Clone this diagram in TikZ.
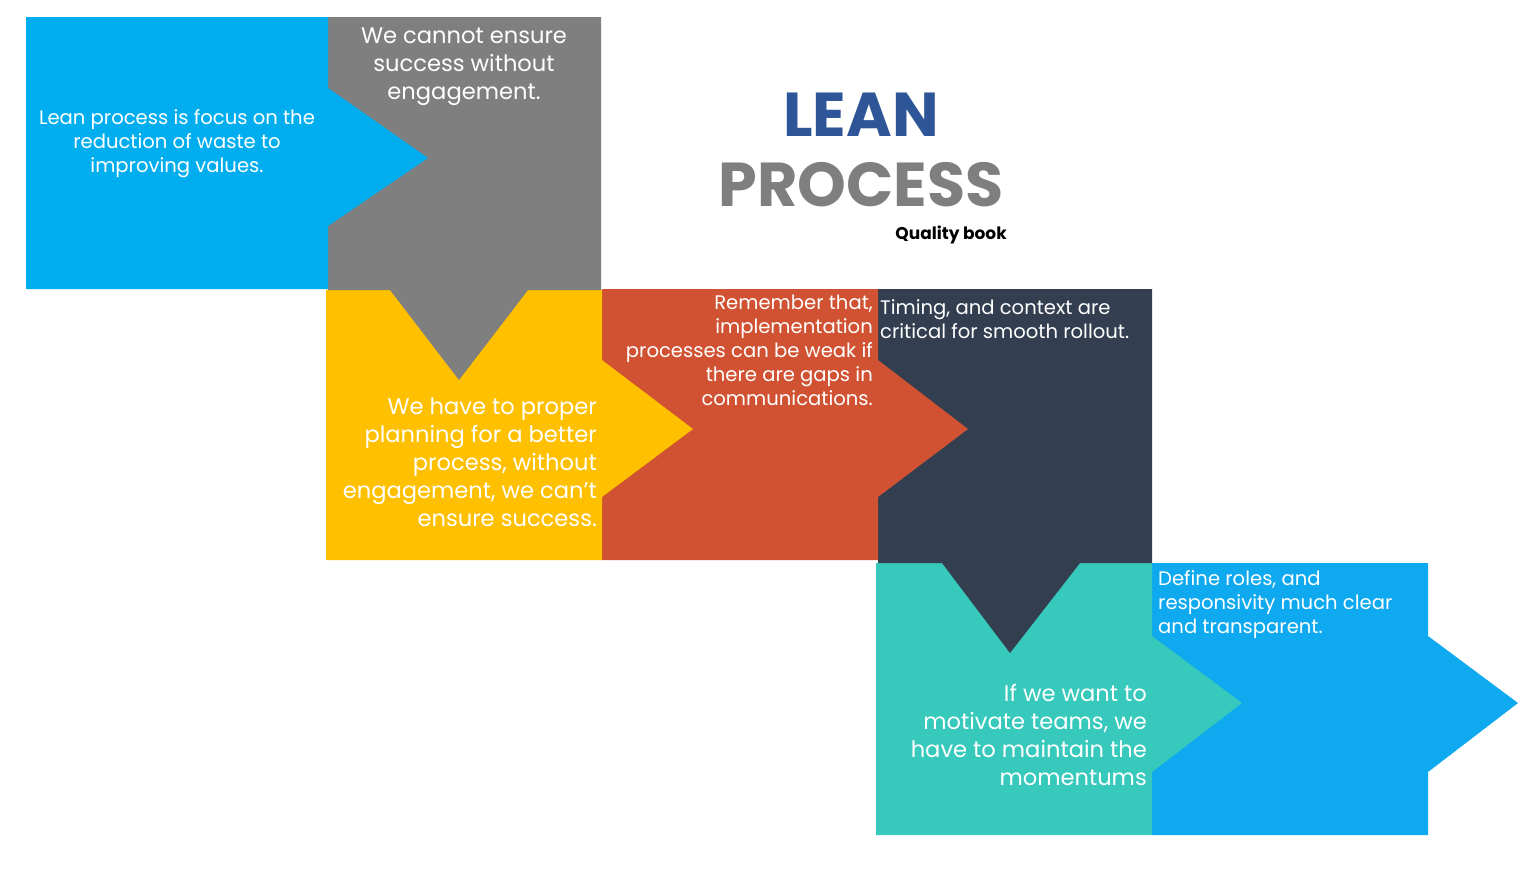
\documentclass[tikz,border=0pt]{standalone}
\usepackage{fontspec}
\setmainfont{Poppins}
\begin{document}
\begin{tikzpicture}[x=1pt,y=-1pt]
\definecolor{cblue}{HTML}{00AEEF}
\definecolor{cblue2}{HTML}{0FA9F0}
\definecolor{cgray}{HTML}{7F7F7F}
\definecolor{cyellow}{HTML}{FFC000}
\definecolor{corange}{HTML}{D05232}
\definecolor{cdark}{HTML}{333F50}
\definecolor{cteal}{HTML}{36C9BC}
\definecolor{ctitle}{HTML}{2E5597}
\tikzset{txt/.style={text=white,inner sep=0pt,font=\fontsize{19.6}{24}\selectfont},
 big/.style={txt,font=\fontsize{22.6}{28}\selectfont}}
\useasboundingbox[fill=white] (0,0) rectangle (1536,870);
\fill[cblue2] (1152,563)--(1428,563)--(1428,636)--(1518,703)--(1428,772)--(1428,835)--(1152,835)--cycle;
\fill[cteal] (876,563)--(1152,563)--(1152,636)--(1242,703)--(1152,772)--(1152,835)--(876,835)--cycle;
\fill[cdark] (878,289)--(1152,289)--(1152,563)--(1080,563)--(1010,653)--(942,563)--(878,563)--cycle;
\fill[corange] (602,289)--(878,289)--(878,360)--(968,429)--(878,497)--(878,560)--(602,560)--cycle;
\fill[cyellow] (326,290)--(602,290)--(602,360)--(693,429)--(602,497)--(602,560)--(326,560)--cycle;
\fill[cgray] (328,17)--(601,17)--(601,290)--(528,290)--(459,380)--(390,290)--(328,290)--cycle;
\fill[cblue] (26,17)--(328,17)--(328,88)--(428,158)--(328,226)--(328,289)--(26,289)--cycle;
\node[txt,align=center] (t1) at (177,144) {Lean process is focus on the\\reduction of waste to\\improving values.};
\node[big,align=center] (t2) at (464,67) {We cannot ensure\\success without\\engagement.};
\node[big,align=right,anchor=east] (t3) at (597,462) {We have to proper\\planning for a better\\process, without\\engagement, we can't\\ensure success.};
\node[txt,align=right,anchor=north east] (t4) at (873,295) {Remember that,\\implementation\\processes can be weak if\\there are gaps in\\communications.};
\node[txt,align=left,anchor=north west] (t5) at (880,299) {Timing, and context are\\critical for smooth rollout.};
\node[big,align=right,anchor=east] (t6) at (1147,735) {If we want to\\motivate teams, we\\have to maintain the\\momentums};
\node[txt,align=left,anchor=north west] (t7) at (1158,570) {Define roles, and\\responsivity much clear\\and transparent.};
\node[text=ctitle,font=\fontsize{62}{64}\selectfont\bfseries] (l1) at (861,115) {LEAN};
\node[text=cgray,font=\fontsize{62}{64}\selectfont\bfseries] (l2) at (861,185) {PROCESS};
\node[font=\fontsize{17}{20}\selectfont\bfseries,anchor=east,inner sep=0pt] (q) at (1007,235) {Quality book};
\end{tikzpicture}
\end{document}
